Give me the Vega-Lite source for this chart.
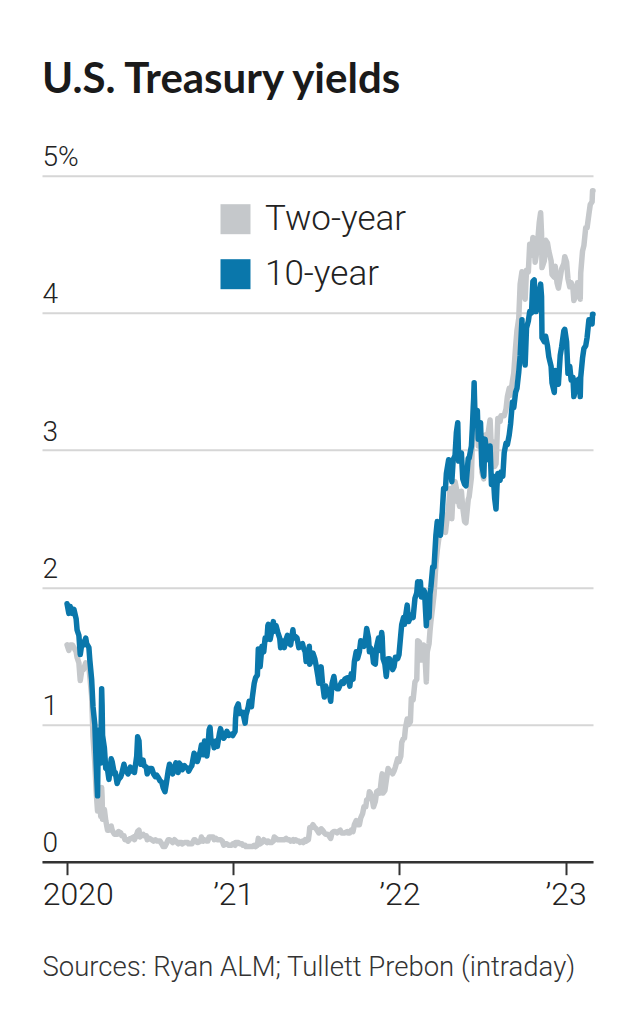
{
  "$schema": "https://vega.github.io/schema/vega-lite/v6.json",
  "width": 551,
  "height": 686,
  "autosize": {"type": "none"},
  "padding": {"left": 42, "top": 175.7, "right": 49, "bottom": 162.3},
  "background": "white",
  "title": {"text": "U.S. Treasury yields", "anchor": "start", "frame": "group", "font": "Lato", "fontSize": 42, "fontWeight": "bold", "color": "#1a1a1a", "baseline": "alphabetic", "offset": 9},
  "data": {"values": [
    {"date":"2020-01-02","Two-year":1.58,"10-year":1.88},
    {"date":"2020-01-06","Two-year":1.54,"10-year":1.81},
    {"date":"2020-01-09","Two-year":1.58,"10-year":1.86},
    {"date":"2020-01-14","Two-year":1.58,"10-year":1.81},
    {"date":"2020-01-17","Two-year":1.56,"10-year":1.84},
    {"date":"2020-01-22","Two-year":1.53,"10-year":1.77},
    {"date":"2020-01-24","Two-year":1.49,"10-year":1.69},
    {"date":"2020-01-28","Two-year":1.45,"10-year":1.65},
    {"date":"2020-01-31","Two-year":1.32,"10-year":1.51},
    {"date":"2020-02-04","Two-year":1.41,"10-year":1.60},
    {"date":"2020-02-07","Two-year":1.40,"10-year":1.58},
    {"date":"2020-02-12","Two-year":1.45,"10-year":1.63},
    {"date":"2020-02-14","Two-year":1.42,"10-year":1.59},
    {"date":"2020-02-19","Two-year":1.42,"10-year":1.56},
    {"date":"2020-02-21","Two-year":1.35,"10-year":1.47},
    {"date":"2020-02-25","Two-year":1.21,"10-year":1.33},
    {"date":"2020-02-28","Two-year":0.91,"10-year":1.13},
    {"date":"2020-03-03","Two-year":0.72,"10-year":1.00},
    {"date":"2020-03-06","Two-year":0.51,"10-year":0.71},
    {"date":"2020-03-09","Two-year":0.37,"10-year":0.48},
    {"date":"2020-03-10","Two-year":0.49,"10-year":0.75},
    {"date":"2020-03-12","Two-year":0.47,"10-year":0.82},
    {"date":"2020-03-13","Two-year":0.49,"10-year":0.96},
    {"date":"2020-03-16","Two-year":0.33,"10-year":0.72},
    {"date":"2020-03-18","Two-year":0.54,"10-year":1.26},
    {"date":"2020-03-19","Two-year":0.47,"10-year":1.14},
    {"date":"2020-03-20","Two-year":0.31,"10-year":0.92},
    {"date":"2020-03-24","Two-year":0.38,"10-year":0.83},
    {"date":"2020-03-27","Two-year":0.30,"10-year":0.68},
    {"date":"2020-03-31","Two-year":0.23,"10-year":0.67},
    {"date":"2020-04-03","Two-year":0.23,"10-year":0.60},
    {"date":"2020-04-08","Two-year":0.26,"10-year":0.75},
    {"date":"2020-04-10","Two-year":0.23,"10-year":0.73},
    {"date":"2020-04-15","Two-year":0.20,"10-year":0.64},
    {"date":"2020-04-17","Two-year":0.20,"10-year":0.65},
    {"date":"2020-04-21","Two-year":0.20,"10-year":0.57},
    {"date":"2020-04-24","Two-year":0.22,"10-year":0.60},
    {"date":"2020-04-29","Two-year":0.21,"10-year":0.62},
    {"date":"2020-05-01","Two-year":0.19,"10-year":0.64},
    {"date":"2020-05-06","Two-year":0.19,"10-year":0.71},
    {"date":"2020-05-08","Two-year":0.16,"10-year":0.68},
    {"date":"2020-05-13","Two-year":0.16,"10-year":0.65},
    {"date":"2020-05-15","Two-year":0.15,"10-year":0.64},
    {"date":"2020-05-20","Two-year":0.17,"10-year":0.69},
    {"date":"2020-05-22","Two-year":0.17,"10-year":0.66},
    {"date":"2020-05-27","Two-year":0.18,"10-year":0.68},
    {"date":"2020-05-29","Two-year":0.16,"10-year":0.65},
    {"date":"2020-06-03","Two-year":0.20,"10-year":0.77},
    {"date":"2020-06-05","Two-year":0.22,"10-year":0.91},
    {"date":"2020-06-08","Two-year":0.23,"10-year":0.88},
    {"date":"2020-06-10","Two-year":0.18,"10-year":0.74},
    {"date":"2020-06-12","Two-year":0.19,"10-year":0.71},
    {"date":"2020-06-17","Two-year":0.20,"10-year":0.74},
    {"date":"2020-06-19","Two-year":0.19,"10-year":0.70},
    {"date":"2020-06-24","Two-year":0.19,"10-year":0.69},
    {"date":"2020-06-26","Two-year":0.16,"10-year":0.64},
    {"date":"2020-07-01","Two-year":0.17,"10-year":0.68},
    {"date":"2020-07-06","Two-year":0.16,"10-year":0.68},
    {"date":"2020-07-10","Two-year":0.15,"10-year":0.64},
    {"date":"2020-07-14","Two-year":0.16,"10-year":0.62},
    {"date":"2020-07-17","Two-year":0.15,"10-year":0.63},
    {"date":"2020-07-21","Two-year":0.15,"10-year":0.61},
    {"date":"2020-07-24","Two-year":0.15,"10-year":0.59},
    {"date":"2020-07-28","Two-year":0.13,"10-year":0.58},
    {"date":"2020-07-31","Two-year":0.11,"10-year":0.54},
    {"date":"2020-08-04","Two-year":0.11,"10-year":0.51},
    {"date":"2020-08-07","Two-year":0.13,"10-year":0.57},
    {"date":"2020-08-11","Two-year":0.16,"10-year":0.66},
    {"date":"2020-08-14","Two-year":0.16,"10-year":0.71},
    {"date":"2020-08-18","Two-year":0.15,"10-year":0.67},
    {"date":"2020-08-21","Two-year":0.14,"10-year":0.64},
    {"date":"2020-08-25","Two-year":0.16,"10-year":0.69},
    {"date":"2020-08-28","Two-year":0.15,"10-year":0.72},
    {"date":"2020-09-02","Two-year":0.13,"10-year":0.65},
    {"date":"2020-09-04","Two-year":0.14,"10-year":0.72},
    {"date":"2020-09-09","Two-year":0.14,"10-year":0.70},
    {"date":"2020-09-11","Two-year":0.13,"10-year":0.67},
    {"date":"2020-09-16","Two-year":0.14,"10-year":0.70},
    {"date":"2020-09-18","Two-year":0.14,"10-year":0.69},
    {"date":"2020-09-23","Two-year":0.14,"10-year":0.68},
    {"date":"2020-09-25","Two-year":0.13,"10-year":0.66},
    {"date":"2020-09-30","Two-year":0.13,"10-year":0.69},
    {"date":"2020-10-02","Two-year":0.13,"10-year":0.70},
    {"date":"2020-10-07","Two-year":0.16,"10-year":0.79},
    {"date":"2020-10-09","Two-year":0.16,"10-year":0.78},
    {"date":"2020-10-14","Two-year":0.14,"10-year":0.73},
    {"date":"2020-10-16","Two-year":0.14,"10-year":0.75},
    {"date":"2020-10-21","Two-year":0.15,"10-year":0.81},
    {"date":"2020-10-23","Two-year":0.18,"10-year":0.85},
    {"date":"2020-10-27","Two-year":0.15,"10-year":0.78},
    {"date":"2020-10-30","Two-year":0.16,"10-year":0.88},
    {"date":"2020-11-04","Two-year":0.15,"10-year":0.77},
    {"date":"2020-11-06","Two-year":0.15,"10-year":0.82},
    {"date":"2020-11-09","Two-year":0.18,"10-year":0.96},
    {"date":"2020-11-11","Two-year":0.18,"10-year":0.98},
    {"date":"2020-11-13","Two-year":0.18,"10-year":0.89},
    {"date":"2020-11-18","Two-year":0.18,"10-year":0.87},
    {"date":"2020-11-20","Two-year":0.16,"10-year":0.83},
    {"date":"2020-11-24","Two-year":0.17,"10-year":0.88},
    {"date":"2020-11-27","Two-year":0.16,"10-year":0.84},
    {"date":"2020-12-02","Two-year":0.16,"10-year":0.94},
    {"date":"2020-12-04","Two-year":0.16,"10-year":0.97},
    {"date":"2020-12-08","Two-year":0.15,"10-year":0.92},
    {"date":"2020-12-11","Two-year":0.12,"10-year":0.90},
    {"date":"2020-12-15","Two-year":0.13,"10-year":0.92},
    {"date":"2020-12-18","Two-year":0.13,"10-year":0.95},
    {"date":"2020-12-22","Two-year":0.12,"10-year":0.92},
    {"date":"2020-12-28","Two-year":0.12,"10-year":0.93},
    {"date":"2020-12-31","Two-year":0.13,"10-year":0.92},
    {"date":"2021-01-05","Two-year":0.12,"10-year":0.95},
    {"date":"2021-01-06","Two-year":0.14,"10-year":1.04},
    {"date":"2021-01-08","Two-year":0.14,"10-year":1.12},
    {"date":"2021-01-12","Two-year":0.14,"10-year":1.15},
    {"date":"2021-01-15","Two-year":0.13,"10-year":1.08},
    {"date":"2021-01-20","Two-year":0.13,"10-year":1.09},
    {"date":"2021-01-22","Two-year":0.12,"10-year":1.09},
    {"date":"2021-01-27","Two-year":0.12,"10-year":1.01},
    {"date":"2021-01-29","Two-year":0.11,"10-year":1.07},
    {"date":"2021-02-03","Two-year":0.11,"10-year":1.13},
    {"date":"2021-02-05","Two-year":0.11,"10-year":1.17},
    {"date":"2021-02-10","Two-year":0.11,"10-year":1.13},
    {"date":"2021-02-12","Two-year":0.11,"10-year":1.20},
    {"date":"2021-02-16","Two-year":0.12,"10-year":1.30},
    {"date":"2021-02-19","Two-year":0.11,"10-year":1.34},
    {"date":"2021-02-23","Two-year":0.12,"10-year":1.36},
    {"date":"2021-02-25","Two-year":0.17,"10-year":1.55},
    {"date":"2021-03-01","Two-year":0.13,"10-year":1.42},
    {"date":"2021-03-05","Two-year":0.14,"10-year":1.57},
    {"date":"2021-03-09","Two-year":0.16,"10-year":1.53},
    {"date":"2021-03-12","Two-year":0.15,"10-year":1.63},
    {"date":"2021-03-16","Two-year":0.14,"10-year":1.62},
    {"date":"2021-03-18","Two-year":0.15,"10-year":1.72},
    {"date":"2021-03-19","Two-year":0.15,"10-year":1.73},
    {"date":"2021-03-23","Two-year":0.14,"10-year":1.62},
    {"date":"2021-03-26","Two-year":0.14,"10-year":1.67},
    {"date":"2021-03-30","Two-year":0.15,"10-year":1.75},
    {"date":"2021-04-01","Two-year":0.18,"10-year":1.68},
    {"date":"2021-04-05","Two-year":0.17,"10-year":1.72},
    {"date":"2021-04-09","Two-year":0.16,"10-year":1.67},
    {"date":"2021-04-13","Two-year":0.16,"10-year":1.63},
    {"date":"2021-04-15","Two-year":0.16,"10-year":1.56},
    {"date":"2021-04-19","Two-year":0.16,"10-year":1.61},
    {"date":"2021-04-23","Two-year":0.16,"10-year":1.56},
    {"date":"2021-04-27","Two-year":0.17,"10-year":1.62},
    {"date":"2021-04-30","Two-year":0.16,"10-year":1.65},
    {"date":"2021-05-04","Two-year":0.16,"10-year":1.59},
    {"date":"2021-05-07","Two-year":0.15,"10-year":1.58},
    {"date":"2021-05-12","Two-year":0.16,"10-year":1.69},
    {"date":"2021-05-14","Two-year":0.15,"10-year":1.63},
    {"date":"2021-05-18","Two-year":0.16,"10-year":1.64},
    {"date":"2021-05-21","Two-year":0.15,"10-year":1.63},
    {"date":"2021-05-25","Two-year":0.15,"10-year":1.56},
    {"date":"2021-05-28","Two-year":0.14,"10-year":1.58},
    {"date":"2021-06-02","Two-year":0.15,"10-year":1.59},
    {"date":"2021-06-04","Two-year":0.14,"10-year":1.56},
    {"date":"2021-06-08","Two-year":0.16,"10-year":1.53},
    {"date":"2021-06-10","Two-year":0.15,"10-year":1.46},
    {"date":"2021-06-15","Two-year":0.16,"10-year":1.49},
    {"date":"2021-06-17","Two-year":0.21,"10-year":1.57},
    {"date":"2021-06-18","Two-year":0.25,"10-year":1.44},
    {"date":"2021-06-22","Two-year":0.25,"10-year":1.47},
    {"date":"2021-06-25","Two-year":0.27,"10-year":1.52},
    {"date":"2021-06-29","Two-year":0.25,"10-year":1.48},
    {"date":"2021-07-02","Two-year":0.24,"10-year":1.43},
    {"date":"2021-07-06","Two-year":0.22,"10-year":1.35},
    {"date":"2021-07-08","Two-year":0.21,"10-year":1.30},
    {"date":"2021-07-13","Two-year":0.24,"10-year":1.42},
    {"date":"2021-07-16","Two-year":0.23,"10-year":1.30},
    {"date":"2021-07-20","Two-year":0.21,"10-year":1.20},
    {"date":"2021-07-23","Two-year":0.20,"10-year":1.28},
    {"date":"2021-07-27","Two-year":0.20,"10-year":1.24},
    {"date":"2021-07-30","Two-year":0.19,"10-year":1.24},
    {"date":"2021-08-03","Two-year":0.17,"10-year":1.17},
    {"date":"2021-08-06","Two-year":0.21,"10-year":1.30},
    {"date":"2021-08-10","Two-year":0.22,"10-year":1.35},
    {"date":"2021-08-13","Two-year":0.22,"10-year":1.28},
    {"date":"2021-08-17","Two-year":0.21,"10-year":1.26},
    {"date":"2021-08-20","Two-year":0.22,"10-year":1.26},
    {"date":"2021-08-24","Two-year":0.23,"10-year":1.29},
    {"date":"2021-08-27","Two-year":0.21,"10-year":1.31},
    {"date":"2021-08-31","Two-year":0.21,"10-year":1.30},
    {"date":"2021-09-03","Two-year":0.21,"10-year":1.33},
    {"date":"2021-09-08","Two-year":0.22,"10-year":1.34},
    {"date":"2021-09-10","Two-year":0.21,"10-year":1.34},
    {"date":"2021-09-14","Two-year":0.21,"10-year":1.28},
    {"date":"2021-09-17","Two-year":0.23,"10-year":1.37},
    {"date":"2021-09-21","Two-year":0.22,"10-year":1.33},
    {"date":"2021-09-24","Two-year":0.27,"10-year":1.46},
    {"date":"2021-09-28","Two-year":0.30,"10-year":1.53},
    {"date":"2021-10-01","Two-year":0.27,"10-year":1.48},
    {"date":"2021-10-05","Two-year":0.27,"10-year":1.53},
    {"date":"2021-10-08","Two-year":0.32,"10-year":1.61},
    {"date":"2021-10-12","Two-year":0.35,"10-year":1.58},
    {"date":"2021-10-15","Two-year":0.40,"10-year":1.57},
    {"date":"2021-10-19","Two-year":0.40,"10-year":1.64},
    {"date":"2021-10-21","Two-year":0.45,"10-year":1.70},
    {"date":"2021-10-25","Two-year":0.46,"10-year":1.63},
    {"date":"2021-10-27","Two-year":0.51,"10-year":1.53},
    {"date":"2021-10-29","Two-year":0.50,"10-year":1.56},
    {"date":"2021-11-02","Two-year":0.46,"10-year":1.54},
    {"date":"2021-11-05","Two-year":0.40,"10-year":1.45},
    {"date":"2021-11-09","Two-year":0.44,"10-year":1.44},
    {"date":"2021-11-12","Two-year":0.51,"10-year":1.57},
    {"date":"2021-11-16","Two-year":0.52,"10-year":1.63},
    {"date":"2021-11-19","Two-year":0.50,"10-year":1.54},
    {"date":"2021-11-23","Two-year":0.62,"10-year":1.67},
    {"date":"2021-11-24","Two-year":0.64,"10-year":1.64},
    {"date":"2021-11-26","Two-year":0.50,"10-year":1.48},
    {"date":"2021-11-30","Two-year":0.52,"10-year":1.44},
    {"date":"2021-12-03","Two-year":0.59,"10-year":1.35},
    {"date":"2021-12-07","Two-year":0.68,"10-year":1.48},
    {"date":"2021-12-10","Two-year":0.66,"10-year":1.48},
    {"date":"2021-12-14","Two-year":0.66,"10-year":1.44},
    {"date":"2021-12-17","Two-year":0.64,"10-year":1.40},
    {"date":"2021-12-20","Two-year":0.66,"10-year":1.42},
    {"date":"2021-12-23","Two-year":0.69,"10-year":1.49},
    {"date":"2021-12-28","Two-year":0.75,"10-year":1.48},
    {"date":"2021-12-31","Two-year":0.73,"10-year":1.51},
    {"date":"2022-01-04","Two-year":0.77,"10-year":1.66},
    {"date":"2022-01-06","Two-year":0.87,"10-year":1.73},
    {"date":"2022-01-10","Two-year":0.90,"10-year":1.78},
    {"date":"2022-01-12","Two-year":0.90,"10-year":1.73},
    {"date":"2022-01-14","Two-year":0.97,"10-year":1.78},
    {"date":"2022-01-18","Two-year":1.04,"10-year":1.87},
    {"date":"2022-01-21","Two-year":1.00,"10-year":1.75},
    {"date":"2022-01-25","Two-year":1.02,"10-year":1.78},
    {"date":"2022-01-27","Two-year":1.19,"10-year":1.80},
    {"date":"2022-01-31","Two-year":1.18,"10-year":1.78},
    {"date":"2022-02-04","Two-year":1.31,"10-year":1.92},
    {"date":"2022-02-08","Two-year":1.33,"10-year":1.96},
    {"date":"2022-02-10","Two-year":1.61,"10-year":2.04},
    {"date":"2022-02-14","Two-year":1.60,"10-year":1.99},
    {"date":"2022-02-16","Two-year":1.47,"10-year":2.04},
    {"date":"2022-02-18","Two-year":1.47,"10-year":1.93},
    {"date":"2022-02-23","Two-year":1.58,"10-year":1.98},
    {"date":"2022-02-25","Two-year":1.57,"10-year":1.97},
    {"date":"2022-03-01","Two-year":1.31,"10-year":1.72},
    {"date":"2022-03-03","Two-year":1.53,"10-year":1.86},
    {"date":"2022-03-07","Two-year":1.59,"10-year":1.78},
    {"date":"2022-03-09","Two-year":1.68,"10-year":1.95},
    {"date":"2022-03-11","Two-year":1.75,"10-year":2.00},
    {"date":"2022-03-15","Two-year":1.86,"10-year":2.15},
    {"date":"2022-03-18","Two-year":1.95,"10-year":2.15},
    {"date":"2022-03-22","Two-year":2.17,"10-year":2.38},
    {"date":"2022-03-25","Two-year":2.27,"10-year":2.48},
    {"date":"2022-03-29","Two-year":2.37,"10-year":2.40},
    {"date":"2022-04-01","Two-year":2.44,"10-year":2.38},
    {"date":"2022-04-05","Two-year":2.53,"10-year":2.55},
    {"date":"2022-04-08","Two-year":2.51,"10-year":2.72},
    {"date":"2022-04-12","Two-year":2.40,"10-year":2.72},
    {"date":"2022-04-14","Two-year":2.46,"10-year":2.83},
    {"date":"2022-04-19","Two-year":2.59,"10-year":2.93},
    {"date":"2022-04-22","Two-year":2.72,"10-year":2.90},
    {"date":"2022-04-26","Two-year":2.50,"10-year":2.77},
    {"date":"2022-04-29","Two-year":2.72,"10-year":2.93},
    {"date":"2022-05-03","Two-year":2.77,"10-year":2.96},
    {"date":"2022-05-06","Two-year":2.72,"10-year":3.13},
    {"date":"2022-05-09","Two-year":2.62,"10-year":3.20},
    {"date":"2022-05-11","Two-year":2.63,"10-year":2.92},
    {"date":"2022-05-13","Two-year":2.59,"10-year":2.93},
    {"date":"2022-05-17","Two-year":2.70,"10-year":2.98},
    {"date":"2022-05-20","Two-year":2.58,"10-year":2.79},
    {"date":"2022-05-24","Two-year":2.48,"10-year":2.75},
    {"date":"2022-05-27","Two-year":2.47,"10-year":2.74},
    {"date":"2022-06-01","Two-year":2.64,"10-year":2.94},
    {"date":"2022-06-03","Two-year":2.66,"10-year":2.94},
    {"date":"2022-06-08","Two-year":2.80,"10-year":3.03},
    {"date":"2022-06-10","Two-year":3.06,"10-year":3.16},
    {"date":"2022-06-13","Two-year":3.35,"10-year":3.38},
    {"date":"2022-06-14","Two-year":3.43,"10-year":3.49},
    {"date":"2022-06-16","Two-year":3.19,"10-year":3.20},
    {"date":"2022-06-17","Two-year":3.18,"10-year":3.23},
    {"date":"2022-06-21","Two-year":3.21,"10-year":3.29},
    {"date":"2022-06-23","Two-year":3.03,"10-year":3.08},
    {"date":"2022-06-28","Two-year":3.10,"10-year":3.20},
    {"date":"2022-07-01","Two-year":2.84,"10-year":2.89},
    {"date":"2022-07-05","Two-year":2.79,"10-year":2.81},
    {"date":"2022-07-08","Two-year":3.11,"10-year":3.08},
    {"date":"2022-07-12","Two-year":3.05,"10-year":2.96},
    {"date":"2022-07-15","Two-year":3.13,"10-year":2.93},
    {"date":"2022-07-19","Two-year":3.22,"10-year":3.03},
    {"date":"2022-07-22","Two-year":2.99,"10-year":2.75},
    {"date":"2022-07-26","Two-year":3.06,"10-year":2.81},
    {"date":"2022-07-29","Two-year":2.88,"10-year":2.65},
    {"date":"2022-08-01","Two-year":2.90,"10-year":2.57},
    {"date":"2022-08-03","Two-year":3.06,"10-year":2.73},
    {"date":"2022-08-05","Two-year":3.23,"10-year":2.83},
    {"date":"2022-08-10","Two-year":3.21,"10-year":2.78},
    {"date":"2022-08-12","Two-year":3.25,"10-year":2.84},
    {"date":"2022-08-16","Two-year":3.25,"10-year":2.81},
    {"date":"2022-08-19","Two-year":3.25,"10-year":2.98},
    {"date":"2022-08-23","Two-year":3.30,"10-year":3.05},
    {"date":"2022-08-26","Two-year":3.39,"10-year":3.04},
    {"date":"2022-08-30","Two-year":3.45,"10-year":3.11},
    {"date":"2022-09-02","Two-year":3.40,"10-year":3.19},
    {"date":"2022-09-06","Two-year":3.50,"10-year":3.35},
    {"date":"2022-09-09","Two-year":3.56,"10-year":3.31},
    {"date":"2022-09-13","Two-year":3.75,"10-year":3.42},
    {"date":"2022-09-16","Two-year":3.87,"10-year":3.45},
    {"date":"2022-09-20","Two-year":3.96,"10-year":3.57},
    {"date":"2022-09-23","Two-year":4.21,"10-year":3.69},
    {"date":"2022-09-27","Two-year":4.30,"10-year":3.95},
    {"date":"2022-09-28","Two-year":4.12,"10-year":3.73},
    {"date":"2022-09-30","Two-year":4.22,"10-year":3.83},
    {"date":"2022-10-04","Two-year":4.10,"10-year":3.62},
    {"date":"2022-10-07","Two-year":4.31,"10-year":3.89},
    {"date":"2022-10-11","Two-year":4.30,"10-year":3.94},
    {"date":"2022-10-14","Two-year":4.50,"10-year":4.01},
    {"date":"2022-10-18","Two-year":4.42,"10-year":4.00},
    {"date":"2022-10-21","Two-year":4.55,"10-year":4.23},
    {"date":"2022-10-24","Two-year":4.49,"10-year":4.24},
    {"date":"2022-10-26","Two-year":4.37,"10-year":4.01},
    {"date":"2022-10-28","Two-year":4.41,"10-year":4.01},
    {"date":"2022-11-01","Two-year":4.54,"10-year":4.05},
    {"date":"2022-11-04","Two-year":4.66,"10-year":4.16},
    {"date":"2022-11-07","Two-year":4.73,"10-year":4.21},
    {"date":"2022-11-09","Two-year":4.58,"10-year":4.12},
    {"date":"2022-11-10","Two-year":4.33,"10-year":3.82},
    {"date":"2022-11-15","Two-year":4.38,"10-year":3.79},
    {"date":"2022-11-18","Two-year":4.53,"10-year":3.83},
    {"date":"2022-11-22","Two-year":4.51,"10-year":3.76},
    {"date":"2022-11-25","Two-year":4.45,"10-year":3.68},
    {"date":"2022-11-30","Two-year":4.38,"10-year":3.61},
    {"date":"2022-12-02","Two-year":4.28,"10-year":3.49},
    {"date":"2022-12-07","Two-year":4.26,"10-year":3.42},
    {"date":"2022-12-09","Two-year":4.34,"10-year":3.58},
    {"date":"2022-12-13","Two-year":4.22,"10-year":3.50},
    {"date":"2022-12-16","Two-year":4.18,"10-year":3.48},
    {"date":"2022-12-20","Two-year":4.26,"10-year":3.69},
    {"date":"2022-12-23","Two-year":4.32,"10-year":3.75},
    {"date":"2022-12-28","Two-year":4.36,"10-year":3.87},
    {"date":"2022-12-30","Two-year":4.41,"10-year":3.88},
    {"date":"2023-01-03","Two-year":4.37,"10-year":3.79},
    {"date":"2023-01-06","Two-year":4.25,"10-year":3.56},
    {"date":"2023-01-10","Two-year":4.19,"10-year":3.61},
    {"date":"2023-01-13","Two-year":4.22,"10-year":3.51},
    {"date":"2023-01-17","Two-year":4.18,"10-year":3.53},
    {"date":"2023-01-19","Two-year":4.09,"10-year":3.39},
    {"date":"2023-01-24","Two-year":4.13,"10-year":3.46},
    {"date":"2023-01-27","Two-year":4.22,"10-year":3.51},
    {"date":"2023-01-31","Two-year":4.21,"10-year":3.52},
    {"date":"2023-02-02","Two-year":4.10,"10-year":3.39},
    {"date":"2023-02-03","Two-year":4.29,"10-year":3.53},
    {"date":"2023-02-07","Two-year":4.45,"10-year":3.67},
    {"date":"2023-02-10","Two-year":4.49,"10-year":3.74},
    {"date":"2023-02-14","Two-year":4.62,"10-year":3.76},
    {"date":"2023-02-17","Two-year":4.62,"10-year":3.82},
    {"date":"2023-02-21","Two-year":4.72,"10-year":3.95},
    {"date":"2023-02-24","Two-year":4.79,"10-year":3.95},
    {"date":"2023-02-28","Two-year":4.81,"10-year":3.92},
    {"date":"2023-03-01","Two-year":4.89,"10-year":3.99},
    {"date":"2023-03-02","Two-year":4.89,"10-year":3.99}
  ]},
  "transform": [{"fold": ["Two-year", "10-year"], "as": ["series", "yield"]}],
  "encoding": {
    "x": {
      "field": "date", "type": "temporal",
      "scale": {"type": "utc", "domain": [{"year": 2019, "month": 11, "date": 8, "utc": true}, {"year": 2023, "month": 3, "date": 2, "utc": true}]},
      "axis": {
        "values": [{"year": 2020, "month": 1, "date": 1, "utc": true}, {"year": 2021, "month": 1, "date": 1, "utc": true}, {"year": 2022, "month": 1, "date": 1, "utc": true}, {"year": 2023, "month": 1, "date": 1, "utc": true}],
        "labelExpr": "utcyear(datum.value) == 2020 ? '2020' : '’' + utcFormat(datum.value, '%y')",
        "title": "Sources: Ryan ALM; Tullett Prebon (intraday)",
        "titleFont": "Roboto", "titleFontSize": 27.5, "titleFontWeight": 300, "titleColor": "#333333",
        "titleAnchor": "start", "titleAlign": "left", "titlePadding": 43,
        "labelFont": "Roboto", "labelFontSize": 32, "labelFontWeight": 300, "labelColor": "#222222",
        "labelPadding": 5, "labelFlush": false, "labelOverlap": false,
        "labelAlign": {"condition": {"test": "utcyear(datum.value) == 2020", "value": "left"}, "value": "center"},
        "labelOffset": {"condition": {"test": "utcyear(datum.value) == 2020", "value": -24.4}, "value": 0},
        "tickSize": 13, "tickWidth": 2, "tickColor": "#333333",
        "domainColor": "#333333", "domainWidth": 2.5, "grid": false
      }
    },
    "y": {
      "field": "yield", "type": "quantitative",
      "scale": {"domain": [0, 5], "nice": false},
      "axis": {
        "values": [0, 1, 2, 3, 4, 5],
        "labelExpr": "datum.value == 5 ? '5%' : datum.label",
        "title": null, "domain": false, "ticks": false, "tickSize": 0,
        "labelAlign": "left", "labelBaseline": "alphabetic", "labelPadding": 0, "labelOffset": -10,
        "labelFont": "Roboto", "labelFontSize": 28, "labelFontWeight": 300, "labelColor": "#222222",
        "labelFlush": false, "labelBound": false,
        "grid": true, "gridColor": "#d6d6d6", "gridWidth": 2
      }
    },
    "color": {
      "field": "series", "type": "nominal",
      "scale": {"domain": ["Two-year", "10-year"], "range": ["#c5c8cb", "#0a77ab"]},
      "legend": {
        "orient": "none", "legendX": 176, "legendY": 26, "title": null,
        "symbolType": "square", "symbolSize": 900, "symbolStrokeWidth": 0,
        "labelFont": "Roboto", "labelFontSize": 35, "labelFontWeight": 300, "labelColor": "#222222",
        "labelOffset": 12, "rowPadding": 19,
        "encode": {"symbols": {"update": {"fill": {"scale": "color", "field": "value"}, "fillOpacity": {"value": 1}, "opacity": {"value": 1}}}}
      }
    }
  },
  "layer": [
    {"transform": [{"filter": "datum.series == 'Two-year'"}], "mark": {"type": "line", "strokeWidth": 5.5, "strokeJoin": "round", "strokeCap": "round"}},
    {"transform": [{"filter": "datum.series == '10-year'"}], "mark": {"type": "line", "strokeWidth": 5.5, "strokeJoin": "round", "strokeCap": "round"}}
  ],
  "config": {"view": {"stroke": null}, "font": "Roboto"}
}
